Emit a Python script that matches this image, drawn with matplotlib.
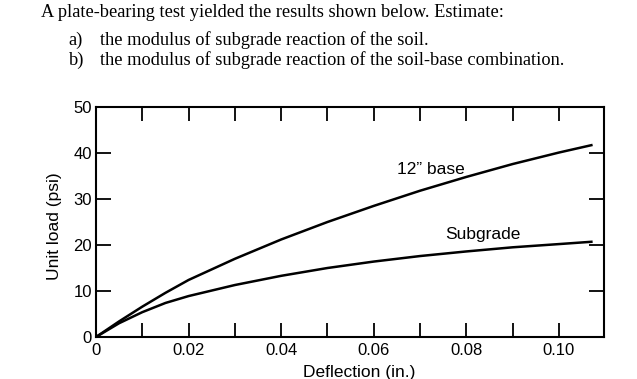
import matplotlib
matplotlib.use("Agg")
import matplotlib.pyplot as plt

# plate-bearing test readings (deflection in inches, unit load in psi)
deflection = [0, 0.005, 0.01, 0.015, 0.02, 0.03, 0.04, 0.05, 0.06, 0.07, 0.08, 0.09, 0.10, 0.107]
base_load = [0, 3.4, 6.6, 9.6, 12.4, 17.0, 21.2, 25.0, 28.5, 31.8, 34.8, 37.6, 40.1, 41.7]
subgrade_load = [0, 3.0, 5.4, 7.4, 8.9, 11.3, 13.3, 15.0, 16.4, 17.6, 18.6, 19.5, 20.2, 20.7]

x_ticks = [0, 0.01, 0.02, 0.03, 0.04, 0.05, 0.06, 0.07, 0.08, 0.09, 0.10]
x_labels = ["0", "", "0.02", "", "0.04", "", "0.06", "", "0.08", "", "0.10"]
y_ticks = [0, 10, 20, 30, 40, 50]
y_labels = ["0", "10", "20", "30", "40", "50"]

title = "A plate-bearing test yielded the results shown below. Estimate:"
items = [("a)", "the modulus of subgrade reaction of the soil."),
         ("b)", "the modulus of subgrade reaction of the soil-base combination.")]

sans = ["Liberation Sans", "DejaVu Sans"]
serif = ["Liberation Serif", "DejaVu Serif"]

fig = plt.figure(figsize=(6.37, 3.79), dpi=100)
ax = fig.add_axes([0.1507, 0.1108, 0.7973, 0.6069])

ax.plot(deflection, base_load, color="black", lw=1.8)
ax.plot(deflection, subgrade_load, color="black", lw=1.8)

ax.set_xlim(0, 0.1097)
ax.set_ylim(0, 50)

ax.set_xticks(x_ticks)
ax.set_xticklabels(x_labels, family=sans, fontsize=12)
ax.set_yticks(y_ticks)
ax.set_yticklabels(y_labels, family=sans, fontsize=12)
ax.tick_params(axis="x", direction="in", length=10, width=1.3, top=True, pad=4)
ax.tick_params(axis="y", direction="in", length=11, width=1.3, right=True, pad=3)
for s in ax.spines.values():
    s.set_linewidth(1.5)

ax.text(0.0724, 36.5, "12\u201d base", family=sans, fontsize=12.5, ha="center", va="center")
ax.text(0.0836, 22.2, "Subgrade", family=sans, fontsize=12.5, ha="center", va="center")

ax.set_xlabel("Deflection (in.)", family=sans, fontsize=12.5)
ax.xaxis.set_label_coords(0.518, -0.122)
ax.set_ylabel("Unit load (psi)", family=sans, fontsize=12.5)
ax.yaxis.set_label_coords(-0.066, 0.48)

fig.text(0.065, 0.955, title, family=serif, fontsize=13.2, va="baseline")
for i, (tag, line) in enumerate(items):
    y = 0.881 - i * 0.0525
    fig.text(0.108, y, tag, family=serif, fontsize=13.2, va="baseline")
    fig.text(0.157, y, line, family=serif, fontsize=13.2, va="baseline")

fig.savefig("out.png", dpi=100)
